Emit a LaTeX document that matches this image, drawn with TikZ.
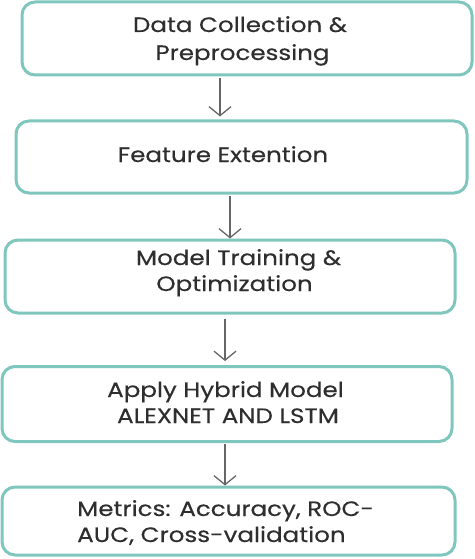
\documentclass[tikz,border=0pt]{standalone}
\usepackage{fontspec}
\setmainfont{Poppins}[FakeStretch=1.18, FakeBold=0.3]
\usetikzlibrary{arrows.meta}
\definecolor{boxline}{HTML}{7FC6BE}
\definecolor{txt}{HTML}{2E2E2E}
\definecolor{arr}{HTML}{666666}
\tikzset{
  stepbox/.style={draw=boxline, line width=3pt, rounded corners=13pt, fill=white,
    minimum width=#1, inner sep=0pt},
  lbl/.style={anchor=base, inner sep=0pt, text=txt, font=\fontsize{20.8}{28}\selectfont},
  lblleft/.style={lbl, anchor=base west},
  flow/.style={draw=arr, line width=1.3pt, -{Straight Barb[length=9pt,width=22pt,line width=1.3pt]}}
}
\begin{document}
\begin{tikzpicture}[x=1pt,y=-1pt]
\useasboundingbox (0,0) rectangle (474,559);
\node[stepbox=450pt, minimum height=73pt] (b1) at (247,38.5) {};
\node[stepbox=451pt, minimum height=72pt] (b2) at (241.5,157) {};
\node[stepbox=450pt, minimum height=73pt] (b3) at (230,276.5) {};
\node[stepbox=450pt, minimum height=75pt] (b4) at (227,404) {};
\node[stepbox=453pt, minimum height=68pt] (b5) at (228.5,521) {};
\node[lbl] (t1a) at (240,32) {Data Collection \&};
\node[lbl] (t1b) at (242.5,60) {Preprocessing};
\node[lbl] (t2a) at (223,162) {Feature Extention};
\node[lbl] (t3a) at (238.5,265) {Model Training \&};
\node[lbl] (t3b) at (234.5,291) {Optimization};
\node[lbl] (t4a) at (225.5,397) {Apply Hybrid Model};
\node[lbl] (t4b) at (228,423) {ALEXNET AND LSTM};
\node[lblleft] (t5a) at (77,516) {Metrics: Accuracy, ROC-};
\node[lblleft] (t5b) at (77,542) {AUC, Cross-validation};
\draw[flow, shorten <=2pt, shorten >=3pt] (b1.south -| 220,0) -- (b2.north -| 220,0);
\draw[flow, shorten <=1pt] (b2.south -| 230,0) -- (b3.north -| 230,0);
\draw[flow, shorten <=4pt, shorten >=4pt] (b3.south -| 225,0) -- (b4.north -| 225,0);
\draw[flow, shorten <=1pt] (b4.south -| 225,0) -- (b5.north -| 225,0);
\end{tikzpicture}
\end{document}
